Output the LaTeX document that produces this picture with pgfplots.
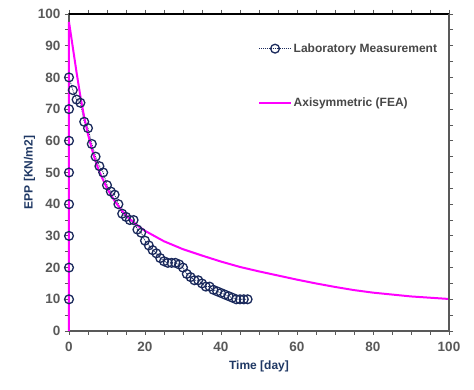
\documentclass[border=0pt]{standalone}
\usepackage{pgfplots}
\pgfplotsset{compat=1.18}
\usepackage{fontspec}
\setmainfont{Liberation Sans}
\definecolor{navy}{HTML}{1B2A5C}
\definecolor{lab}{HTML}{1F3864}
\definecolor{tickgray}{HTML}{595959}
\definecolor{fea}{HTML}{FF00FF}
\begin{document}
\begin{tikzpicture}
\begin{axis}[
  scale only axis, width=380pt, height=317pt,
  xmin=0, xmax=100, ymin=0, ymax=100,
  xtick={0,20,...,100}, ytick={0,10,...,100},
  minor xtick={5,10,...,95}, minor ytick={5,15,...,95},
  tick align=outside, major tick length=4pt, minor tick length=4pt,
  tick style={tickgray, line width=0.8pt},
  axis line style={tickgray, line width=1.2pt},
  every tick label/.append style={font=\bfseries\fontsize{13.5}{15}\selectfont, text=tickgray},
  xticklabel style={yshift=-4pt},
  yticklabel style={xshift=-1pt},
  /pgf/number format/assume math mode=true,
  xlabel={Time [day]}, ylabel={EPP [KN/m2]},
  label style={font=\bfseries\fontsize{12}{14}\selectfont, text=lab},
  xlabel style={yshift=-2pt},
  ylabel style={yshift=-4pt},
  clip=false,
  legend cell align=left,
  legend style={draw=none, fill=none, at={(0.49,0.92)}, anchor=north west,
     font=\bfseries\fontsize{12}{14}\selectfont, text=tickgray!80!black, row sep=40pt},
  legend image code/.code={\draw[mark repeat=2,mark phase=2,#1] plot coordinates {(0cm,0cm) (0.55cm,0cm) (1.1cm,0cm)};},
]
\addplot[navy, densely dotted, line width=0.9pt, mark=o, mark size=4.4pt,
  mark options={solid, line width=1.3pt, navy}] coordinates {
(0,10)(0,20)(0,30)(0,40)(0,50)(0,60)(0,70)(0,80)
(1,76)(2,73)(3,72)(4,66)(5,64)(6,59)(7,55)(8,52)(9,50)(10,46)
(11,44)(12,43)(13,40)(14,37)(15,36)(16,35)(17,35)(18,32)(19,31)(20,28.5)
(21,27)(22,25.5)(23,24.5)(24,23)(25,22)(26,21.5)(27,21.5)(28,21.5)(29,21)(30,20)
(31,18)(32,17)(33,16)(34,16)(35,15)(36,14)(37,14)(38,13)(39,12.5)(40,12)
(41,11.5)(42,11)(43,10.5)(44,10)(45,10)(46,10)(47,10)
};
\addlegendentry{Laboratory Measurement}
\addplot[fea, line width=2pt] coordinates {
(0,0)(0,97.5)(1,89.5)(2,81.5)(3,74)(4,67.5)(5,62)(6,57.5)(7,53.5)(8,50.2)(10,45)
(12,41)(14,37.8)(16,35.3)(18,33.3)(20,31.6)(25,28.3)(30,25.8)(35,23.8)(40,21.9)
(45,20.2)(50,18.8)(55,17.5)(60,16.2)(65,15)(70,13.9)(75,12.9)(80,12.1)
(85,11.5)(90,10.9)(95,10.5)(100,10.1)
};
\addlegendentry{Axisymmetric (FEA)}
\draw[black, line width=1.2pt] (rel axis cs:0,1) -- (rel axis cs:1,1);
\draw[tickgray, line width=1.6pt] (rel axis cs:1,0) -- (rel axis cs:1,1);
\end{axis}
\useasboundingbox (current axis.south west) ++(-69pt,-59pt) rectangle ([shift={(25pt,14pt)}]current axis.north east);
\end{tikzpicture}
\end{document}
